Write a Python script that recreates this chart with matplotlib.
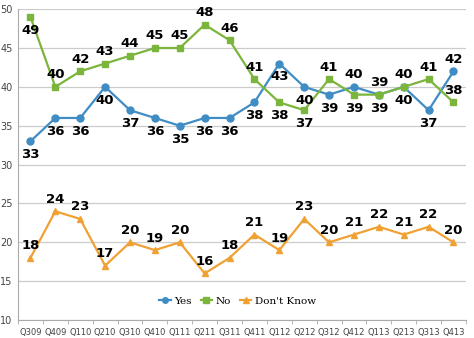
import matplotlib
matplotlib.use("Agg")
import numpy as np
from matplotlib import pyplot as plt

quarters = ["Q309", "Q409", "Q110", "Q210", "Q310", "Q410", "Q111", "Q211", "Q311",
            "Q411", "Q112", "Q212", "Q312", "Q412", "Q113", "Q213", "Q313", "Q413"]
yes = [33, 36, 36, 40, 37, 36, 35, 36, 36, 38, 43, 40, 39, 40, 39, 40, 37, 42]
no = [49, 40, 42, 43, 44, 45, 45, 48, 46, 41, 38, 37, 41, 39, 39, 40, 41, 38]
dont_know = [18, 24, 23, 17, 20, 19, 20, 16, 18, 21, 19, 23, 20, 21, 22, 21, 22, 20]

# which points get their label above the marker
yes_above = [13, 14, 15, 17]
no_below = [0, 10, 11, 13, 14, 15]

fig = plt.figure(figsize=(4.74, 3.38), dpi=100)
ax = fig.add_axes([0.038, 0.053, 0.945, 0.92])

x = np.arange(len(quarters))
c_yes, c_no, c_dk = "#3f8dc4", "#7cb53b", "#f0a133"

ax.plot(x, yes, color=c_yes, lw=1.6, marker="o", ms=5, label="Yes")
ax.plot(x, no, color=c_no, lw=1.6, marker="s", ms=5, label="No")
ax.plot(x, dont_know, color=c_dk, lw=1.6, marker="^", ms=5, label="Don't Know")

def label(i, v, above):
    off = 4 if above else -5
    va = "bottom" if above else "top"
    ax.annotate(str(v), (i, v), xytext=(0, off), textcoords="offset points",
                ha="center", va=va, fontsize=9.5, fontweight="bold", color="black")

for i, v in enumerate(yes):
    label(i, v, i in yes_above)
for i, v in enumerate(no):
    label(i, v, i not in no_below)
for i, v in enumerate(dont_know):
    label(i, v, True)

ax.set_xlim(-0.5, len(quarters) - 0.5)
ax.set_ylim(10, 50)
ax.set_yticks(range(10, 51, 5))
ax.set_xticks(x)
ax.set_xticklabels(quarters)
ax.set_xticks(np.arange(-0.5, len(quarters), 1), minor=True)
ax.tick_params(axis="x", which="major", length=0, labelsize=6, colors="#444444", pad=6)
ax.tick_params(axis="x", which="minor", length=3, color="#aaaaaa")
ax.tick_params(axis="y", length=0, labelsize=7, colors="#444444", pad=4)
ax.grid(axis="y", color="#cccccc", lw=0.9)
ax.set_axisbelow(True)
for s in ["top", "right"]:
    ax.spines[s].set_visible(False)
ax.spines["left"].set_color("#aaaaaa")
ax.spines["bottom"].set_color("#aaaaaa")

ax.legend(loc="lower center", bbox_to_anchor=(0.49, 0.015), ncol=3, frameon=False,
          prop={"family": "DejaVu Serif", "size": 7.5}, handlelength=1.1,
          columnspacing=0.9, handletextpad=0.3, markerscale=0.8)

fig.savefig("out.png", dpi=100)
